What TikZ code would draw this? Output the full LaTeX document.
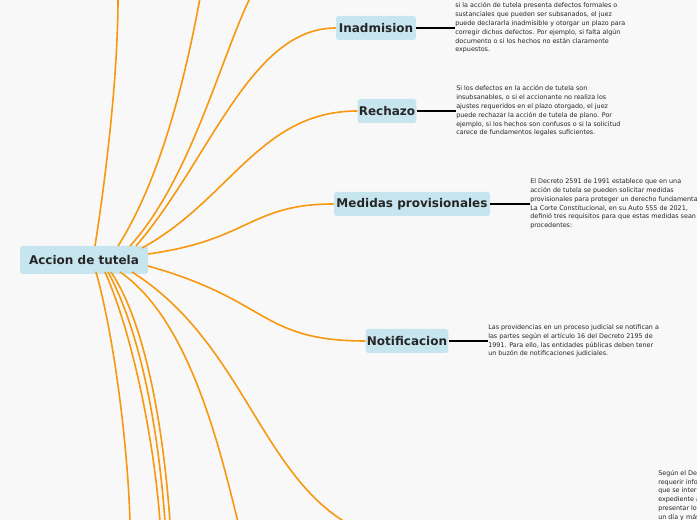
\documentclass[tikz,border=0pt]{standalone}
\usepackage{fontspec}
\setmainfont{DejaVu Sans}
\definecolor{bg}{HTML}{F8F8F8}
\definecolor{boxc}{HTML}{C7E5EF}
\definecolor{br}{HTML}{F7980F}
\begin{document}
\begin{tikzpicture}[x=0.75pt,y=-0.75pt,
  topic/.style={fill=boxc,rounded corners=2pt,font=\bfseries\fontsize{9}{10}\selectfont,text=black!85,inner sep=0pt,minimum height=18pt},
  note/.style={anchor=west,align=left,font=\fontsize{4.8}{6.6}\selectfont,text=black!85,inner sep=0pt},
  br/.style={draw=br,line width=1.2pt},
  lk/.style={draw=black,line width=1.2pt}]
\useasboundingbox (0,0) rectangle (697,520);
\clip (0,0) rectangle (697,520);
\fill[bg] (0,0) rectangle (697,520);
\node[topic,minimum width=96pt,minimum height=21pt] (root) at (84,260) {Accion de tutela};
\node[topic,minimum width=60pt] (inad) at (376,28) {Inadmision};
\node[topic,minimum width=44pt] (rech) at (387,111) {Rechazo};
\node[topic,minimum width=117pt] (med) at (412,204) {Medidas provisionales};
\node[topic,minimum width=62pt] (noti) at (407,341) {Notificacion};
\coordinate (t1) at (118,-2); \coordinate (t2) at (200,-2); \coordinate (t3) at (250,-2);
\coordinate (b1) at (130,522); \coordinate (b2) at (160,522); \coordinate (b3) at (165,522);
\coordinate (b4) at (170,522); \coordinate (b5) at (238,522); \coordinate (b6) at (345,522);
\begin{scope}[br]
\draw (95,246) .. controls (110,150) and (118,60) .. (t1);
\draw (118,246) .. controls (160,180) and (185,80) .. (t2);
\draw (130,246) .. controls (190,180) and (220,60) .. (t3);
\draw (136,246) .. controls (210,160) and (250,28) .. (inad.west);
\draw (142,248) .. controls (230,200) and (260,111) .. (rech.west);
\draw (148,254) .. controls (250,240) and (250,204) .. (med.west);
\draw (148,266) .. controls (270,300) and (260,341) .. (noti.west);
\draw (96,272) .. controls (115,340) and (128,450) .. (b1);
\draw (105,272) .. controls (135,340) and (155,450) .. (b2);
\draw (108,272) .. controls (145,340) and (160,450) .. (b3);
\draw (111,272) .. controls (150,330) and (165,450) .. (b4);
\draw (120,272) .. controls (190,320) and (220,450) .. (b5);
\draw (132,272) .. controls (240,340) and (260,470) .. (b6);
\end{scope}
\node[note] (n1) at (455,28) {si la acción de tutela presenta defectos formales o\\ sustanciales que pueden ser subsanados, el juez\\ puede declararla inadmisible y otorgar un plazo para\\ corregir dichos defectos. Por ejemplo, si falta algún\\ documento o si los hechos no están claramente\\ expuestos.};
\node[note] (n2) at (456,111) {Si los defectos en la acción de tutela son\\ insubsanables, o si el accionante no realiza los\\ ajustes requeridos en el plazo otorgado, el juez\\ puede rechazar la acción de tutela de plano. Por\\ ejemplo, si los hechos son confusos o si la solicitud\\ carece de fundamentos legales suficientes.};
\node[note] (n3) at (530,204) {El Decreto 2591 de 1991 establece que en una\\ acción de tutela se pueden solicitar medidas\\ provisionales para proteger un derecho fundamental.\\ La Corte Constitucional, en su Auto 555 de 2021,\\ definió tres requisitos para que estas medidas sean\\ procedentes:};
\node[note] (n4) at (488,341) {Las providencias en un proceso judicial se notifican a\\ las partes según el artículo 16 del Decreto 2195 de\\ 1991. Para ello, las entidades públicas deben tener\\ un buzón de notificaciones judiciales.};
\node[note,anchor=north west] (n5) at (658,470) {Según el Decreto\\ requerir información\\ que se interponga\\ expediente a\\ presentar los\\ un día y más};
\draw[lk] (inad.east) -- (n1.west);
\draw[lk] (rech.east) -- (n2.west);
\draw[lk] (med.east) -- (n3.west);
\draw[lk] (noti.east) -- (n4.west);
\end{tikzpicture}
\end{document}
